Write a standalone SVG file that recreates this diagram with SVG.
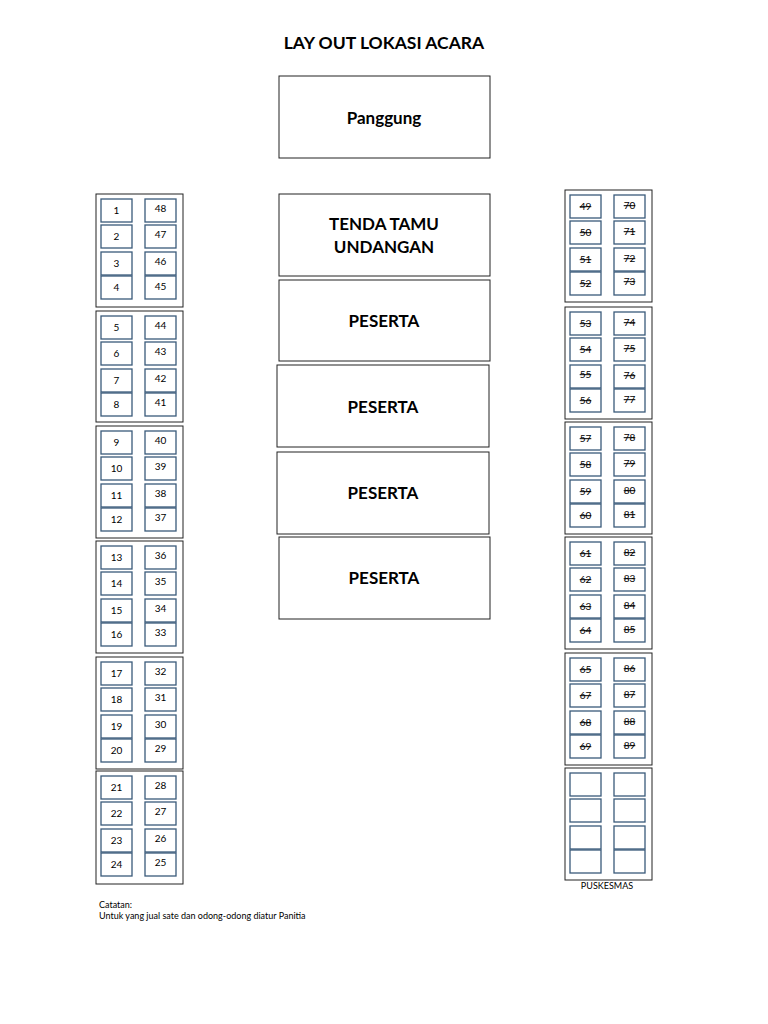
<svg xmlns="http://www.w3.org/2000/svg" width="768" height="1024" viewBox="0 0 768 1024">
<style>
text{font-family:Lato,"Liberation Sans",sans-serif;fill:#000}
.big{fill:#fff;stroke:#222;stroke-width:1}
.grp{fill:#fff;stroke:#222;stroke-width:1}
.b{fill:#fff;stroke:#3a5a7a;stroke-width:1.3}
.n{font-size:10px;text-anchor:middle}
.s{text-decoration:line-through}
.t{font-size:17px;font-weight:bold;text-anchor:middle}
</style>
<rect width="768" height="1024" fill="#fff"/>
<text x="384" y="49" class="t" style="font-size:17.5px">LAY OUT LOKASI ACARA</text>
<g id="panggung"><rect class="big" x="279" y="76" width="211" height="82"/><text class="t" x="384" y="124">Panggung</text></g>
<g id="tenda"><rect class="big" x="279" y="194" width="211" height="82"/><text class="t" x="384" y="230">TENDA TAMU</text><text class="t" x="384" y="253">UNDANGAN</text></g>
<g id="peserta1"><rect class="big" x="279" y="280" width="211" height="81"/><text class="t" x="384" y="327">PESERTA</text></g>
<g id="peserta2"><rect class="big" x="277" y="365" width="212" height="82"/><text class="t" x="383" y="413">PESERTA</text></g>
<g id="peserta3"><rect class="big" x="277" y="452" width="212" height="82"/><text class="t" x="383" y="499">PESERTA</text></g>
<g id="peserta4"><rect class="big" x="279" y="537" width="211" height="82"/><text class="t" x="384" y="584">PESERTA</text></g>

<g id="left-g1"><rect class="grp" x="96" y="194" width="87" height="113"/>
<rect class="b" x="101" y="199" width="31" height="23"/><text class="n" x="116.5" y="214">1</text>
<rect class="b" x="101" y="225" width="31" height="23"/><text class="n" x="116.5" y="240">2</text>
<rect class="b" x="101" y="252" width="31" height="23"/><text class="n" x="116.5" y="267">3</text>
<rect class="b" x="101" y="276" width="31" height="23"/><text class="n" x="116.5" y="291">4</text>
<rect class="b" x="145" y="199" width="31" height="23"/><text class="n" x="160.5" y="212">48</text>
<rect class="b" x="145" y="225" width="31" height="23"/><text class="n" x="160.5" y="238">47</text>
<rect class="b" x="145" y="252" width="31" height="23"/><text class="n" x="160.5" y="265">46</text>
<rect class="b" x="145" y="276" width="31" height="23"/><text class="n" x="160.5" y="290">45</text></g>
<g id="left-g2"><rect class="grp" x="96" y="311" width="87" height="111"/>
<rect class="b" x="101" y="316" width="31" height="23"/><text class="n" x="116.5" y="331">5</text>
<rect class="b" x="101" y="342" width="31" height="23"/><text class="n" x="116.5" y="357">6</text>
<rect class="b" x="101" y="369" width="31" height="23"/><text class="n" x="116.5" y="384">7</text>
<rect class="b" x="101" y="393" width="31" height="23"/><text class="n" x="116.5" y="408">8</text>
<rect class="b" x="145" y="316" width="31" height="23"/><text class="n" x="160.5" y="329">44</text>
<rect class="b" x="145" y="342" width="31" height="23"/><text class="n" x="160.5" y="355">43</text>
<rect class="b" x="145" y="369" width="31" height="23"/><text class="n" x="160.5" y="382">42</text>
<rect class="b" x="145" y="393" width="31" height="23"/><text class="n" x="160.5" y="406">41</text></g>
<g id="left-g3"><rect class="grp" x="96" y="426" width="87" height="112"/>
<rect class="b" x="101" y="431" width="31" height="23"/><text class="n" x="116.5" y="446">9</text>
<rect class="b" x="101" y="457" width="31" height="23"/><text class="n" x="116.5" y="472">10</text>
<rect class="b" x="101" y="484" width="31" height="23"/><text class="n" x="116.5" y="499">11</text>
<rect class="b" x="101" y="508" width="31" height="23"/><text class="n" x="116.5" y="523">12</text>
<rect class="b" x="145" y="431" width="31" height="23"/><text class="n" x="160.5" y="444">40</text>
<rect class="b" x="145" y="457" width="31" height="23"/><text class="n" x="160.5" y="470">39</text>
<rect class="b" x="145" y="484" width="31" height="23"/><text class="n" x="160.5" y="497">38</text>
<rect class="b" x="145" y="508" width="31" height="23"/><text class="n" x="160.5" y="521">37</text></g>
<g id="left-g4"><rect class="grp" x="96" y="541" width="87" height="112"/>
<rect class="b" x="101" y="546" width="31" height="23"/><text class="n" x="116.5" y="561">13</text>
<rect class="b" x="101" y="572" width="31" height="23"/><text class="n" x="116.5" y="587">14</text>
<rect class="b" x="101" y="599" width="31" height="23"/><text class="n" x="116.5" y="614">15</text>
<rect class="b" x="101" y="623" width="31" height="23"/><text class="n" x="116.5" y="638">16</text>
<rect class="b" x="145" y="546" width="31" height="23"/><text class="n" x="160.5" y="559">36</text>
<rect class="b" x="145" y="572" width="31" height="23"/><text class="n" x="160.5" y="585">35</text>
<rect class="b" x="145" y="599" width="31" height="23"/><text class="n" x="160.5" y="612">34</text>
<rect class="b" x="145" y="623" width="31" height="23"/><text class="n" x="160.5" y="636">33</text></g>
<g id="left-g5"><rect class="grp" x="96" y="657" width="87" height="112"/>
<rect class="b" x="101" y="662" width="31" height="23"/><text class="n" x="116.5" y="677">17</text>
<rect class="b" x="101" y="688" width="31" height="23"/><text class="n" x="116.5" y="703">18</text>
<rect class="b" x="101" y="715" width="31" height="23"/><text class="n" x="116.5" y="730">19</text>
<rect class="b" x="101" y="739" width="31" height="23"/><text class="n" x="116.5" y="754">20</text>
<rect class="b" x="145" y="662" width="31" height="23"/><text class="n" x="160.5" y="675">32</text>
<rect class="b" x="145" y="688" width="31" height="23"/><text class="n" x="160.5" y="701">31</text>
<rect class="b" x="145" y="715" width="31" height="23"/><text class="n" x="160.5" y="728">30</text>
<rect class="b" x="145" y="739" width="31" height="23"/><text class="n" x="160.5" y="752">29</text></g>
<g id="left-g6"><rect class="grp" x="96" y="771" width="87" height="113"/>
<rect class="b" x="101" y="776" width="31" height="23"/><text class="n" x="116.5" y="791">21</text>
<rect class="b" x="101" y="802" width="31" height="23"/><text class="n" x="116.5" y="817">22</text>
<rect class="b" x="101" y="829" width="31" height="23"/><text class="n" x="116.5" y="844">23</text>
<rect class="b" x="101" y="853" width="31" height="23"/><text class="n" x="116.5" y="868">24</text>
<rect class="b" x="145" y="776" width="31" height="23"/><text class="n" x="160.5" y="789">28</text>
<rect class="b" x="145" y="802" width="31" height="23"/><text class="n" x="160.5" y="815">27</text>
<rect class="b" x="145" y="829" width="31" height="23"/><text class="n" x="160.5" y="842">26</text>
<rect class="b" x="145" y="853" width="31" height="23"/><text class="n" x="160.5" y="866">25</text></g>

<g id="right-g1"><rect class="grp" x="565" y="190" width="87" height="112"/>
<rect class="b" x="570" y="195" width="31" height="23"/><text class="n s" x="585.5" y="210">49</text>
<rect class="b" x="570" y="221" width="31" height="23"/><text class="n s" x="585.5" y="236">50</text>
<rect class="b" x="570" y="248" width="31" height="23"/><text class="n s" x="585.5" y="263">51</text>
<rect class="b" x="570" y="272" width="31" height="23"/><text class="n s" x="585.5" y="287">52</text>
<rect class="b" x="614" y="195" width="31" height="23"/><text class="n s" x="629.5" y="209">70</text>
<rect class="b" x="614" y="221" width="31" height="23"/><text class="n s" x="629.5" y="235">71</text>
<rect class="b" x="614" y="248" width="31" height="23"/><text class="n s" x="629.5" y="262">72</text>
<rect class="b" x="614" y="272" width="31" height="23"/><text class="n s" x="629.5" y="285">73</text></g>
<g id="right-g2"><rect class="grp" x="565" y="307" width="87" height="112"/>
<rect class="b" x="570" y="312" width="31" height="23"/><text class="n s" x="585.5" y="327">53</text>
<rect class="b" x="570" y="338" width="31" height="23"/><text class="n s" x="585.5" y="353">54</text>
<rect class="b" x="570" y="365" width="31" height="23"/><text class="n s" x="585.5" y="378">55</text>
<rect class="b" x="570" y="389" width="31" height="23"/><text class="n s" x="585.5" y="404">56</text>
<rect class="b" x="614" y="312" width="31" height="23"/><text class="n s" x="629.5" y="326">74</text>
<rect class="b" x="614" y="338" width="31" height="23"/><text class="n s" x="629.5" y="352">75</text>
<rect class="b" x="614" y="365" width="31" height="23"/><text class="n s" x="629.5" y="379">76</text>
<rect class="b" x="614" y="389" width="31" height="23"/><text class="n s" x="629.5" y="403">77</text></g>
<g id="right-g3"><rect class="grp" x="565" y="422" width="87" height="112"/>
<rect class="b" x="570" y="427" width="31" height="23"/><text class="n s" x="585.5" y="442">57</text>
<rect class="b" x="570" y="453" width="31" height="23"/><text class="n s" x="585.5" y="468">58</text>
<rect class="b" x="570" y="480" width="31" height="23"/><text class="n s" x="585.5" y="495">59</text>
<rect class="b" x="570" y="504" width="31" height="23"/><text class="n s" x="585.5" y="519">60</text>
<rect class="b" x="614" y="427" width="31" height="23"/><text class="n s" x="629.5" y="441">78</text>
<rect class="b" x="614" y="453" width="31" height="23"/><text class="n s" x="629.5" y="467">79</text>
<rect class="b" x="614" y="480" width="31" height="23"/><text class="n s" x="629.5" y="494">80</text>
<rect class="b" x="614" y="504" width="31" height="23"/><text class="n s" x="629.5" y="518">81</text></g>
<g id="right-g4"><rect class="grp" x="565" y="537" width="87" height="112"/>
<rect class="b" x="570" y="542" width="31" height="23"/><text class="n s" x="585.5" y="557">61</text>
<rect class="b" x="570" y="568" width="31" height="23"/><text class="n s" x="585.5" y="583">62</text>
<rect class="b" x="570" y="595" width="31" height="23"/><text class="n s" x="585.5" y="610">63</text>
<rect class="b" x="570" y="619" width="31" height="23"/><text class="n s" x="585.5" y="634">64</text>
<rect class="b" x="614" y="542" width="31" height="23"/><text class="n s" x="629.5" y="556">82</text>
<rect class="b" x="614" y="568" width="31" height="23"/><text class="n s" x="629.5" y="582">83</text>
<rect class="b" x="614" y="595" width="31" height="23"/><text class="n s" x="629.5" y="609">84</text>
<rect class="b" x="614" y="619" width="31" height="23"/><text class="n s" x="629.5" y="633">85</text></g>
<g id="right-g5"><rect class="grp" x="565" y="653" width="87" height="112"/>
<rect class="b" x="570" y="658" width="31" height="23"/><text class="n s" x="585.5" y="673">65</text>
<rect class="b" x="570" y="684" width="31" height="23"/><text class="n s" x="585.5" y="699">67</text>
<rect class="b" x="570" y="711" width="31" height="23"/><text class="n s" x="585.5" y="726">68</text>
<rect class="b" x="570" y="735" width="31" height="23"/><text class="n s" x="585.5" y="750">69</text>
<rect class="b" x="614" y="658" width="31" height="23"/><text class="n s" x="629.5" y="672">86</text>
<rect class="b" x="614" y="684" width="31" height="23"/><text class="n s" x="629.5" y="698">87</text>
<rect class="b" x="614" y="711" width="31" height="23"/><text class="n s" x="629.5" y="725">88</text>
<rect class="b" x="614" y="735" width="31" height="23"/><text class="n s" x="629.5" y="749">89</text></g>
<g id="puskesmas"><rect class="grp" x="565" y="768" width="87" height="112"/>
<rect class="b" x="570" y="773" width="31" height="23"/>
<rect class="b" x="570" y="799" width="31" height="23"/>
<rect class="b" x="570" y="826" width="31" height="23"/>
<rect class="b" x="570" y="850" width="31" height="23"/>
<rect class="b" x="614" y="773" width="31" height="23"/>
<rect class="b" x="614" y="799" width="31" height="23"/>
<rect class="b" x="614" y="826" width="31" height="23"/>
<rect class="b" x="614" y="850" width="31" height="23"/>
<text x="607" y="889" style="font-size:9px;text-anchor:middle">PUSKESMAS</text></g>
<g id="connectors"/>
<g id="catatan"><text x="99" y="908" style="font-size:9px">Catatan:</text>
<text x="99" y="919" style="font-size:9px">Untuk yang jual sate dan odong-odong diatur Panitia</text></g>
</svg>
